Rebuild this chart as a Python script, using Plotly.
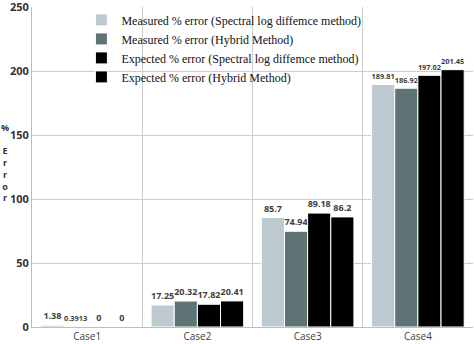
import plotly.graph_objects as go

cases = ["Case1", "Case2", "Case3", "Case4"]
series_names = [
    "Measured % error (Spectral log diffemce method)",
    "Measured % error (Hybrid Method)",
    "Expected % error (Spectral log diffemce method)",
    "Expected % error (Hybrid Method)",
]
meas_spec = [1.38, 17.25, 85.7, 189.81]
meas_hyb = [0.3913, 20.32, 74.94, 186.92]
exp_spec = [0, 17.82, 89.18, 197.02]
exp_hyb = [0, 20.41, 86.2, 201.45]
label_spec_m = ["1.38", "17.25", "85.7", "189.81"]
label_hyb_m = ["0.3913", "20.32", "74.94", "186.92"]
label_spec_e = ["0", "17.82", "89.18", "197.02"]
label_hyb_e = ["0", "20.41", "86.2", "201.45"]
y_ticks = [0, 50, 100, 150, 200, 250]

colors = ["#bccacf", "#5e7373", "#000000", "#000000"]
series = [meas_spec, meas_hyb, exp_spec, exp_hyb]
labels = [label_spec_m, label_hyb_m, label_spec_e, label_hyb_e]

fig = go.Figure()
for name, vals, lab, col in zip(series_names, series, labels, colors):
    fig.add_trace(go.Bar(
        x=cases, y=vals, name=name, text=lab, textposition="outside",
        texttemplate="%{text}",
        marker=dict(color=col, line=dict(color="white", width=1)),
        textfont=dict(family="Open Sans", size=9, color="#404040", weight="bold"),
        cliponaxis=False,
    ))

# invisible trace on overlay axis for category divider gridlines
fig.add_trace(go.Scatter(x=[-0.5, 3.5], y=[0, 0], xaxis="x2", mode="lines",
                         line=dict(width=0), showlegend=False, hoverinfo="skip"))

fig.update_layout(
    width=474, height=344,
    margin=dict(l=32, r=1, t=7, b=17, autoexpand=False),
    paper_bgcolor="white", plot_bgcolor="white",
    barmode="group", bargap=0.16, bargroupgap=0,
    showlegend=True,
    legend=dict(x=0.112, y=1.005, xanchor="left", yanchor="top",
                bgcolor="rgba(0,0,0,0)",
                font=dict(family="Liberation Serif", size=12, color="#111111"),
                tracegroupgap=0, itemwidth=30),
    xaxis=dict(type="category", range=[-0.5, 3.5], showgrid=False,
               showline=True, linecolor="#bfbfbf", ticks="",
               tickfont=dict(family="Open Sans", size=10, color="#404040")),
    xaxis2=dict(overlaying="x", range=[-0.5, 3.5], tickvals=[0.5, 1.5, 2.5],
                showgrid=True, gridcolor="#cccccc", gridwidth=1,
                showticklabels=False, ticks="", zeroline=False, showline=False),
    yaxis=dict(range=[0, 250.5], tickmode="array", tickvals=y_ticks,
               ticktext=[str(v) for v in y_ticks], ticklabeloverflow="allow",
               automargin=False, showgrid=True, gridcolor="#cccccc",
               showline=True, linecolor="#bfbfbf", zeroline=False, ticks="",
               tickfont=dict(family="Open Sans", size=11, color="#333333", weight="bold")),
    annotations=[dict(text="%<br><br>E<br>r<br>r<br>o<br>r", xref="paper", yref="paper",
                      x=-0.062, y=0.515, xanchor="center", yanchor="middle", showarrow=False,
                      font=dict(family="Open Sans", size=9, color="#333333", weight="bold"))],
)
fig.write_html("out.html")
